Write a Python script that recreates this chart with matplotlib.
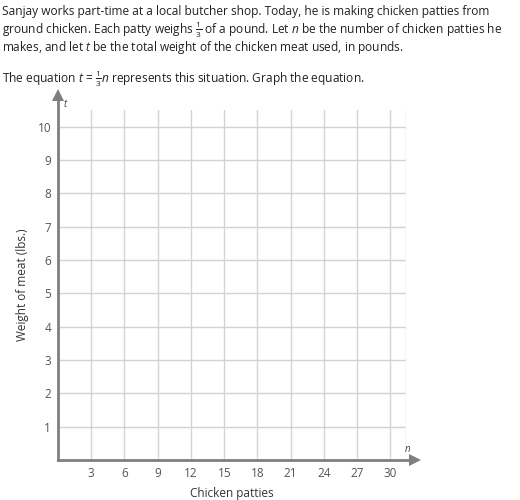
import matplotlib
matplotlib.use("Agg")
import matplotlib.pyplot as plt

x_ticks = [3, 6, 9, 12, 15, 18, 21, 24, 27, 30]
y_ticks = [1, 2, 3, 4, 5, 6, 7, 8, 9, 10]

plt.rcParams['font.family'] = ['Open Sans', 'DejaVu Sans']
plt.rcParams['mathtext.fontset'] = 'custom'
plt.rcParams['mathtext.rm'] = 'Open Sans'
plt.rcParams['mathtext.it'] = 'Open Sans:italic'

fig = plt.figure(figsize=(5.2, 5.0), dpi=100)
ax = fig.add_axes([58/520, 40/500, 348/520, 350/500])
ax.set_xlim(0, 31.4)
ax.set_ylim(0, 10.5)
gc = '#d3d3d3'
for x in x_ticks:
    ax.axvline(x, color=gc, lw=1, zorder=0)
for y in y_ticks:
    ax.axhline(y, color=gc, lw=1, zorder=0)
ax.axvline(31.4, color=gc, lw=1, zorder=0)
for s in ax.spines.values():
    s.set_visible(False)
ac = '#7f7f7f'
ax.plot([0, 32.0], [0, 0], color=ac, lw=2, clip_on=False, zorder=3)
ax.plot([0, 0], [0, 10.8], color=ac, lw=2, clip_on=False, zorder=3)
ax.plot([32.2], [0], marker='>', ms=9, color=ac, clip_on=False, zorder=4, mew=0)
ax.plot([0], [10.95], marker='^', ms=9, color=ac, clip_on=False, zorder=4, mew=0)
ax.set_xticks(x_ticks)
ax.set_yticks(y_ticks)
ax.set_xticklabels([str(v) for v in x_ticks], color='#555555', fontsize=8.5)
ax.set_yticklabels([str(v) for v in y_ticks], color='#555555', fontsize=8.5)
ax.tick_params(length=0, pad=5)
ax.set_xlabel('Chicken patties', fontsize=8.5, color='#333333', labelpad=5)
ax.set_ylabel('Weight of meat (lbs.)', fontsize=8.5, color='#333333', labelpad=6)
ax.text(31.3, 0.25, 'n', fontsize=7, style='italic', color='#444444')
ax.text(0.5, 10.6, 't', fontsize=7, style='italic', color='#444444')

tc = '#222222'
fs = 8.6
fig.text(2/520, 1-12/500, 'Sanjay works part-time at a local butcher shop. Today, he is making chicken patties from', fontsize=fs, color=tc, va='center')
fig.text(2/520, 1-30/500, r'ground chicken. Each patty weighs $\frac{1}{3}$ of a pound. Let $\mathit{n}$ be the number of chicken patties he', fontsize=fs, color=tc, va='center')
fig.text(2/520, 1-48/500, r'makes, and let $\mathit{t}$ be the total weight of the chicken meat used, in pounds.', fontsize=fs, color=tc, va='center')
fig.text(2/520, 1-79/500, r'The equation $\mathit{t}$ = $\frac{1}{3}\mathit{n}$ represents this situation. Graph the equation.', fontsize=fs, color=tc, va='center')

fig.savefig('out.png', dpi=100)
